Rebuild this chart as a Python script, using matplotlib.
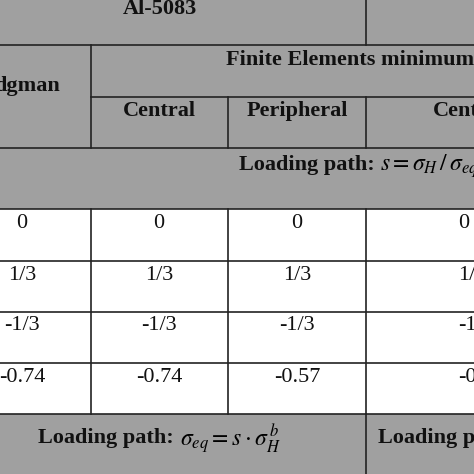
import matplotlib
matplotlib.use("Agg")
import matplotlib.pyplot as plt
from matplotlib.patches import Rectangle

plt.rcParams['mathtext.fontset'] = 'stix'
FONT = 'Liberation Serif'

col_bridgman = ["0", "1/3", "-1/3", "-0.74"]
col_central = ["0", "1/3", "-1/3", "-0.74"]
col_peripheral = ["0", "1/3", "-1/3", "-0.57"]
col_central2 = ["0", "1/3", "-1/3", "-0.6"]

fig = plt.figure(figsize=(4.74, 4.74), dpi=100)
ax = fig.add_axes([0, 0, 1, 1])
ax.set_xlim(0, 474); ax.set_ylim(474, 0); ax.axis('off')

gray = '#a0a0a0'
lc = '#222222'
ax.add_patch(Rectangle((0, 0), 474, 209, color=gray, lw=0))
ax.add_patch(Rectangle((0, 414), 474, 60, color=gray, lw=0))

def h(y, x0=0, x1=474): ax.plot([x0, x1], [y, y], color=lc, lw=1.2)
def v(x, y0, y1): ax.plot([x, x], [y0, y1], color=lc, lw=1.2)
for y in [45, 148, 209, 261, 312, 363, 414]: h(y)
h(97, 91, 474)
v(91, 45, 148); v(91, 209, 414)
v(228, 97, 148); v(228, 209, 414)
v(366, 0, 45); v(366, 97, 148); v(366, 209, 414); v(366, 414, 474)

fs = 16
kw = dict(family=FONT, fontsize=fs, color='#111111')
ax.text(160, 9, "Al-5083", ha='center', va='center', weight='bold', **kw)
ax.text(60, 86, "dgman", ha='right', va='center', weight='bold', **kw)
ax.text(226, 60, "Finite Elements minimum", ha='left', va='center', weight='bold', **kw)
ax.text(159, 111, "Central", ha='center', va='center', weight='bold', **kw)
ax.text(297, 111, "Peripheral", ha='center', va='center', weight='bold', **kw)
ax.text(433, 111, "Central", ha='left', va='center', weight='bold', **kw)
ax.text(239, 165, "Loading path:", ha='left', va='center', weight='bold', **kw)
ax.text(380, 166, r"$s=\sigma_H\,/\,\sigma_{eq}$", ha='left', va='center', fontsize=fs+1)
ax.text(38, 438, "Loading path:", ha='left', va='center', weight='bold', **kw)
ax.text(180, 439, r"$\sigma_{eq}=s\cdot\sigma_H^{\,b}$", ha='left', va='center', fontsize=fs+1)
ax.text(378, 438, "Loading path", ha='left', va='center', weight='bold', **kw)

rows_y = [223, 275, 326, 378]
for i, y in enumerate(rows_y):
    ax.text(22, y, col_bridgman[i], ha='center', va='center', **kw)
    ax.text(159, y, col_central[i], ha='center', va='center', **kw)
    ax.text(297, y, col_peripheral[i], ha='center', va='center', **kw)
    ax.text(458, y, col_central2[i], ha='left', va='center', **kw)

fig.savefig("out.png", dpi=100)
